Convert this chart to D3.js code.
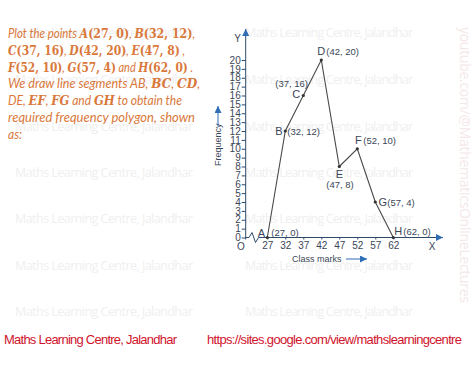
<!DOCTYPE html>
<html><head><meta charset="utf-8">
<script src="https://cdn.jsdelivr.net/npm/d3@7"></script>
<style>html,body{margin:0;padding:0;background:#fff;}svg{display:block;}</style>
</head><body>
<script>
const classMarks = [27, 32, 37, 42, 47, 52, 57, 62];
const frequencies = [0, 12, 16, 20, 8, 10, 4, 0];
const pointNames = ["A", "B", "C", "D", "E", "F", "G", "H"];
const yTicks = d3.range(0, 21);
const xTicks = [27, 32, 37, 42, 47, 52, 57, 62];

const W = 474, H = 366;
const svg = d3.select("body").append("svg").attr("width", W).attr("height", H);

// watermarks
const wm = svg.append("g").attr("font-family", "Open Sans").attr("font-size", 12.5).attr("fill", "#efefef");
[33, 80, 127, 173, 219, 266, 312].forEach(y => {
  wm.append("text").attr("x", 15).attr("y", y + 4).attr("textLength", 178).text("Maths Learning Centre, Jalandhar");
  wm.append("text").attr("x", 245).attr("y", y + 4).attr("textLength", 168).text("Maths Learning Centre, Jalandhar");
});
svg.append("text").attr("transform", "translate(460,27) rotate(90)")
  .attr("font-family", "Open Sans").attr("font-size", 14).attr("fill", "#f4e8e8")
  .attr("textLength", 276).text("youtube.com/@MathematicsOnlineLectures");

// left explanatory text
const orange = "#d9783a";
const lines = [
  [["Plot the points ", 0], ["A", 2], ["(27, 0)", 1], [", ", 0], ["B", 2], ["(32, 12)", 1], [",", 0]],
  [["C", 2], ["(37, 16)", 1], [", ", 0], ["D", 2], ["(42, 20)", 1], [", ", 0], ["E", 2], ["(47, 8)", 1], [" ,", 0]],
  [["F", 2], ["(52, 10)", 1], [", ", 0], ["G", 2], ["(57, 4)", 1], [" and ", 0], ["H", 2], ["(62, 0)", 1], [" .", 0]],
  [["We draw line segments AB, ", 0], ["BC", 2], [", ", 0], ["CD", 2], [",", 0]],
  [["DE, ", 0], ["EF", 2], [", ", 0], ["FG", 2], [" and ", 0], ["GH", 2], [" to obtain the", 0]],
  [["required frequency polygon, shown", 0]],
  [["as:", 0]]
];
const lineW = [187, 177, 185, 192, 174, 187, 14];
lines.forEach((ln, i) => {
  const t = svg.append("text").attr("x", 8).attr("y", 38 + i * 16.8)
    .attr("fill", orange).attr("font-size", 13)
    .attr("textLength", lineW[i]).attr("lengthAdjust", "spacingAndGlyphs");
  ln.forEach(([s, k]) => {
    const sp = t.append("tspan").text(s);
    if (k === 0) sp.attr("font-family", "Lato").attr("font-style", "italic");
    else sp.attr("font-family", "DejaVu Serif").attr("font-weight", "bold").attr("font-size", 12.5)
      .attr("font-style", k === 2 ? "italic" : "normal");
  });
});

// chart
const x = d3.scaleLinear().domain([27, 62]).range([267.3, 393.3]);
const y = d3.scaleLinear().domain([0, 20]).range([237.5, 60]);
const axisX = 245.7;
const axisColor = "#2e4a6b";
const txt = "#3a4658";
const g = svg.append("g");

const defs = svg.append("defs");
defs.append("marker").attr("id", "arr").attr("viewBox", "0 0 10 10").attr("refX", 10).attr("refY", 5)
  .attr("markerWidth", 7).attr("markerHeight", 7).attr("markerUnits", "userSpaceOnUse").attr("orient", "auto")
  .append("path").attr("d", "M0,0L10,5L0,10Z").attr("fill", "#2f6db5");

// y axis
g.append("line").attr("x1", axisX).attr("x2", axisX).attr("y1", y(0) + 2).attr("y2", 29)
  .attr("stroke", axisColor).attr("stroke-width", 1).attr("marker-end", "url(#arr)");
const yAxis = d3.axisLeft(y).tickValues(yTicks).tickSize(4).tickPadding(1).tickSizeOuter(0);
const yg = g.append("g").attr("transform", `translate(${axisX},0)`).call(yAxis);
yg.select(".domain").remove();
yg.selectAll("line").attr("stroke", axisColor);
yg.selectAll("text").attr("font-family", "Liberation Sans").attr("font-size", 10).attr("fill", txt);

// x axis with break
const yb = y(0);
g.append("path").attr("d", `M${axisX},${yb}L249,${yb}L252,${yb - 5}L255.5,${yb + 5}L258.5,${yb}L443,${yb}`)
  .attr("fill", "none").attr("stroke", axisColor).attr("stroke-width", 1).attr("marker-end", "url(#arr)");
const xAxis = d3.axisBottom(x).tickValues(xTicks).tickSize(2).tickPadding(2).tickSizeOuter(0);
const xg = g.append("g").attr("transform", `translate(0,${yb})`).call(xAxis);
xg.select(".domain").remove();
xg.selectAll("line").attr("stroke", axisColor);
xg.selectAll("text").attr("font-family", "Liberation Sans").attr("font-size", 10).attr("fill", txt);

g.append("text").attr("x", 237.5).attr("y", 42).attr("text-anchor", "middle")
  .attr("font-family", "Liberation Sans").attr("font-size", 10).attr("fill", txt).text("Y");
g.append("text").attr("x", 432).attr("y", 250).attr("text-anchor", "middle")
  .attr("font-family", "Liberation Sans").attr("font-size", 10).attr("fill", txt).text("X");
g.append("text").attr("x", 241).attr("y", 250).attr("text-anchor", "middle")
  .attr("font-family", "Liberation Sans").attr("font-size", 10).attr("fill", txt).text("O");

// axis titles
g.append("text").attr("x", 292).attr("y", 262)
  .attr("font-family", "Liberation Sans").attr("font-size", 9).attr("fill", txt).text("Class marks");
g.append("line").attr("x1", 346).attr("x2", 367).attr("y1", 259).attr("y2", 259)
  .attr("stroke", "#2f6db5").attr("marker-end", "url(#arr)");
g.append("text").attr("transform", "translate(221,166) rotate(-90)")
  .attr("font-family", "Liberation Sans").attr("font-size", 9).attr("fill", txt).text("Frequency");
g.append("line").attr("x1", 218).attr("x2", 218).attr("y1", 126).attr("y2", 106)
  .attr("stroke", "#2f6db5").attr("marker-end", "url(#arr)");

// polygon
const pts = classMarks.map((c, i) => ({ c, f: frequencies[i], n: pointNames[i] }));
g.append("path").datum(pts)
  .attr("d", d3.line().x(d => x(d.c)).y(d => y(d.f)))
  .attr("fill", "none").attr("stroke", "#4a4a4a").attr("stroke-width", 1.1);
g.selectAll("circle.p").data(pts).join("circle")
  .attr("cx", d => x(d.c)).attr("cy", d => y(d.f)).attr("r", 1.6).attr("fill", "#333");

// label offsets: [letter dx, dy, coord dx, dy]
const lab = {
  A: [-6, -1, 4, -2],
  B: [-6.5, 4, 2, 4],
  C: [-7, 2, -28, -9],
  D: [0, -5, 5, -5],
  E: [0, 11, -13, 21],
  F: [1, -5, 6, -5],
  G: [7.5, 4, 12, 4],
  H: [5, -3, 10, -3]
};
const labG = g.append("g").attr("font-family", "Liberation Sans").attr("fill", txt);
pts.forEach(d => {
  const o = lab[d.n];
  const px = x(d.c), py = y(d.f);
  labG.append("text").attr("x", px + o[0]).attr("y", py + o[1]).attr("text-anchor", "middle")
    .attr("font-size", 11).text(d.n);
  labG.append("text").attr("x", px + o[2]).attr("y", py + o[3])
    .attr("font-size", 9.5).text(`(${d.c}, ${d.f})`);
});

// footer
svg.append("text").attr("x", 4).attr("y", 344).attr("font-family", "Liberation Sans").attr("font-size", 13)
  .attr("fill", "#d0142c").attr("textLength", 173).text("Maths Learning Centre, Jalandhar");
svg.append("text").attr("x", 207).attr("y", 344).attr("font-family", "Liberation Sans").attr("font-size", 13)
  .attr("fill", "#d0142c").attr("textLength", 255).text("https://sites.google.com/view/mathslearningcentre");
</script>
</body></html>
